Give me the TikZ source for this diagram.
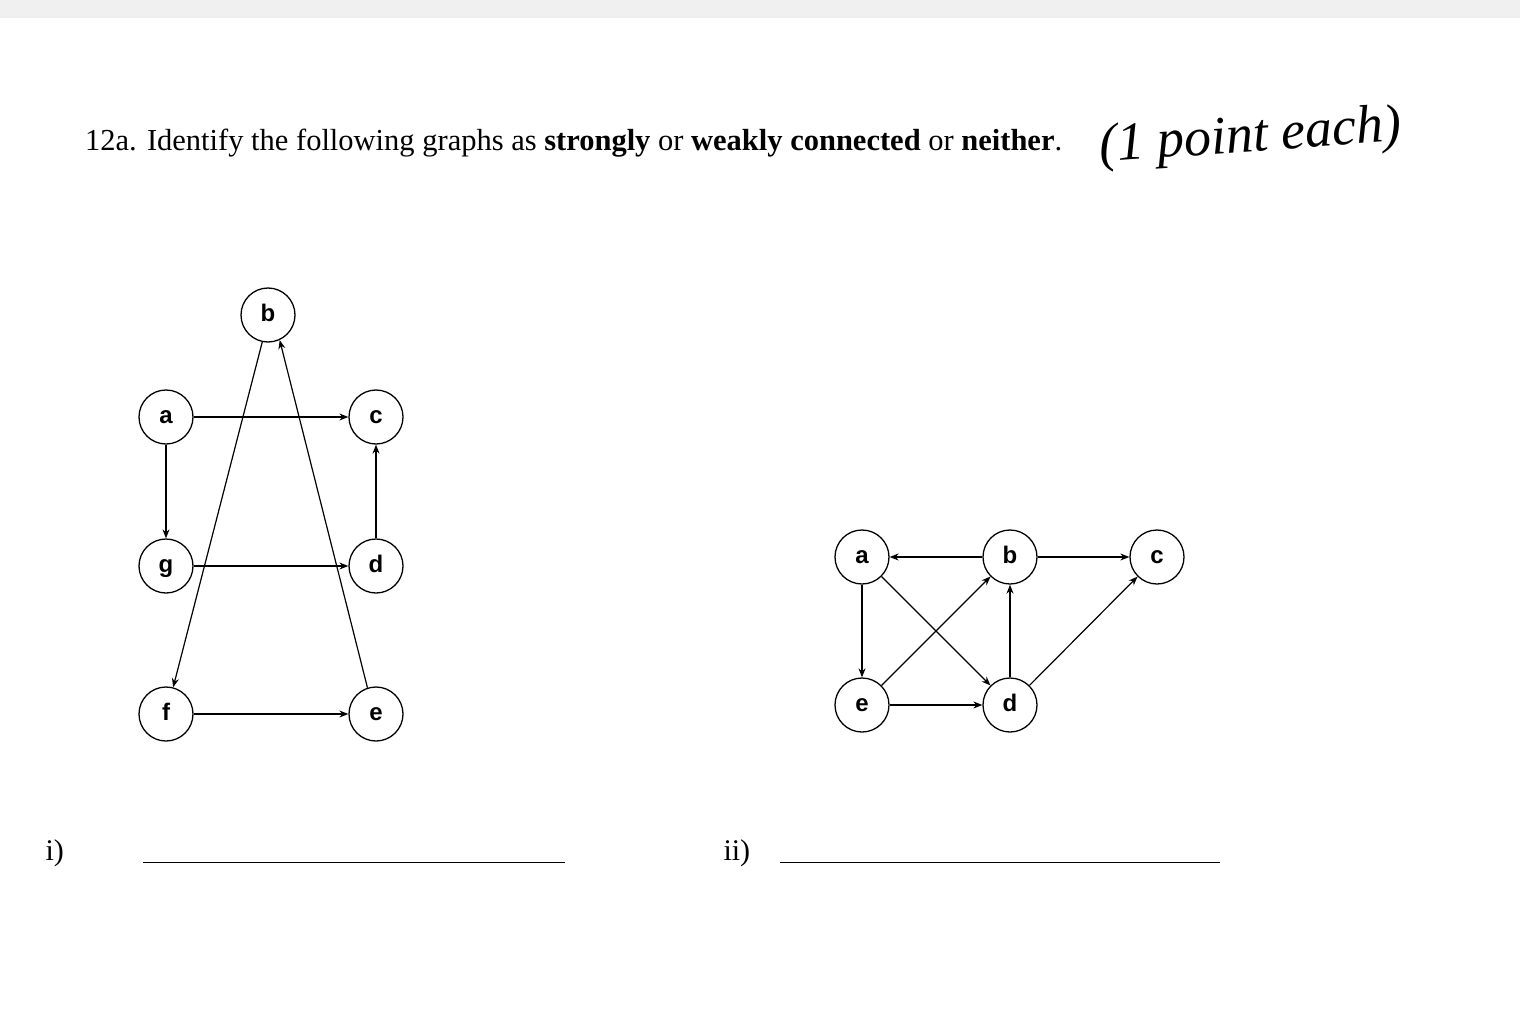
\documentclass[tikz,border=0pt]{standalone}
\usepackage{fontspec}
\setmainfont{Liberation Serif}
\setsansfont{Liberation Sans}
\usetikzlibrary{arrows.meta}
\begin{document}
\begin{tikzpicture}[x=1pt,y=-1pt,
  vtx/.style={circle,draw,line width=1.3pt,minimum size=54pt,inner sep=0pt,text height=13pt,text depth=0pt,font=\sffamily\bfseries\fontsize{24}{24}\selectfont},
  edge/.style={line width=1.2pt,-{Stealth[length=9pt,width=7pt]}}]
\useasboundingbox (0,0) rectangle (1520,1022);
\fill[gray!12] (0,0) rectangle (1520,18);
\node[anchor=base west,inner sep=0pt,font=\fontsize{30.5}{32}\selectfont] (title) at (85,150) {12a. Identify the following graphs as \textbf{strongly} or \textbf{weakly connected} or \textbf{neither}.};
\node[anchor=base west,inner sep=0pt,font=\itshape\fontsize{54}{56}\selectfont,rotate=4] (hw) at (1100,162) {(1 point each)};
% graph i
\node[vtx] (b) at (268,315) {b};
\node[vtx] (a) at (166,417) {a};
\node[vtx] (c) at (376,417) {c};
\node[vtx] (g) at (166,566) {g};
\node[vtx] (d) at (376,566) {d};
\node[vtx] (f) at (166,714) {f};
\node[vtx] (e) at (376,714) {e};
\draw[edge] (a) -- (c);
\draw[edge] (a) -- (g);
\draw[edge] (g) -- (d);
\draw[edge] (d) -- (c);
\draw[edge] (f) -- (e);
\draw[edge] (b.258) -- (f.75);
\draw[edge] (e.108) -- (b.-65);
% graph ii
\node[vtx] (a2) at (862,557) {a};
\node[vtx] (b2) at (1010,557) {b};
\node[vtx] (c2) at (1157,557) {c};
\node[vtx] (e2) at (862,705) {e};
\node[vtx] (d2) at (1010,705) {d};
\draw[edge] (b2) -- (a2);
\draw[edge] (b2) -- (c2);
\draw[edge] (a2) -- (e2);
\draw[edge] (a2) -- (d2);
\draw[edge] (e2) -- (b2);
\draw[edge] (e2) -- (d2);
\draw[edge] (d2) -- (b2);
\draw[edge] (d2) -- (c2);
% answers
\node[anchor=base west,font=\fontsize{30}{32}\selectfont] (l1) at (42,860) {i)};
\node[anchor=base west,font=\fontsize{30}{32}\selectfont] (l2) at (720,860) {ii)};
\coordinate (s1) at (143,862); \coordinate (t1) at (565,862);
\coordinate (s2) at (780,862); \coordinate (t2) at (1220,862);
\draw[line width=1pt] (s1) -- (t1);
\draw[line width=1pt] (s2) -- (t2);
\end{tikzpicture}
\end{document}
